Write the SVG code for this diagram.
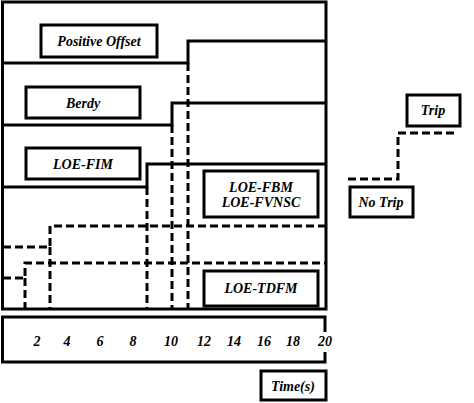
<svg xmlns="http://www.w3.org/2000/svg" width="474" height="403" viewBox="0 0 474 403">
<style>
.ln{fill:none;stroke:#000;stroke-width:3}
.ds{fill:none;stroke:#000;stroke-width:3;stroke-dasharray:8 4}
.bx{fill:#fff;stroke:#000;stroke-width:3}
.t{font-family:"Liberation Serif",serif;font-weight:bold;font-style:italic;font-size:14px;text-anchor:middle;dominant-baseline:central;fill:#000}
</style>
<rect width="474" height="403" fill="#fff"/>
<g id="frame">
<rect x="2.5" y="2" width="323.5" height="307" class="ln"/>
</g>
<g id="connectors">
<polyline class="ln" points="3,63 188,63 188,41 326,41"/>
<line class="ds" x1="188" y1="63" x2="188" y2="309"/>
<polyline class="ln" points="3,125 172,125 172,103 326,103"/>
<line class="ds" x1="172" y1="125" x2="172" y2="309"/>
<polyline class="ln" points="3,187 147,187 147,164 326,164"/>
<line class="ds" x1="147" y1="187" x2="147" y2="309"/>
<polyline class="ds" points="3,247 50,247 50,226 326,226"/>
<line class="ds" x1="50" y1="247" x2="50" y2="309"/>
<polyline class="ds" points="3,278 25,278 25,263 326,263"/>
<line class="ds" x1="25" y1="278" x2="25" y2="309"/>
<polyline class="ds" points="348,179 398,179 398,133 457,133"/>
</g>
<g id="positive-offset">
<rect class="bx" x="41" y="25" width="116" height="32"/>
<text class="t" x="99" y="41">Positive Offset</text>
</g>
<g id="berdy">
<rect class="bx" x="26" y="87" width="114" height="31"/>
<text class="t" x="83" y="103">Berdy</text>
</g>
<g id="loe-fim">
<rect class="bx" x="26" y="148" width="114" height="31"/>
<text class="t" x="83" y="164">LOE-FIM</text>
</g>
<g id="loe-fbm">
<rect class="bx" x="204" y="171" width="114" height="46"/>
<text class="t" x="261" y="187">LOE-FBM</text>
<text class="t" x="261" y="202">LOE-FVNSC</text>
</g>
<g id="loe-tdfm">
<rect class="bx" x="204" y="271" width="114" height="35"/>
<text class="t" x="261" y="288">LOE-TDFM</text>
</g>
<g id="axis">
<path class="ln" d="M325,332 V317 H2.5 V362 H325 V352"/>
<text class="t" x="37" y="341">2</text>
<text class="t" x="67" y="341">4</text>
<text class="t" x="100" y="341">6</text>
<text class="t" x="133" y="341">8</text>
<text class="t" x="171" y="341">10</text>
<text class="t" x="204" y="341">12</text>
<text class="t" x="234" y="341">14</text>
<text class="t" x="264" y="341">16</text>
<text class="t" x="293" y="341">18</text>
<text class="t" x="325" y="341">20</text>
</g>
<g id="time">
<rect class="bx" x="261" y="371" width="65" height="29"/>
<text class="t" x="293" y="386">Time(s)</text>
</g>
<g id="trip">
<rect class="bx" x="407" y="95" width="53" height="31"/>
<text class="t" x="433" y="110">Trip</text>
</g>
<g id="no-trip">
<rect class="bx" x="350" y="187" width="63" height="30"/>
<text class="t" x="381" y="202">No Trip</text>
</g>
</svg>
